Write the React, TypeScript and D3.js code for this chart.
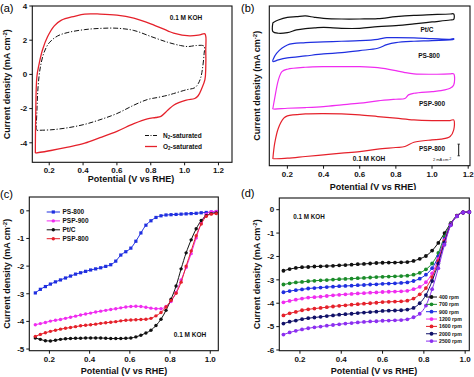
import * as d3 from "d3";

const FONT = "'Liberation Sans', Arial, sans-serif";

// ---- (a) CV of PSP-800, N2 vs O2 (V vs RHE, mA cm-2), closed loops
const cvN2: [number, number][] = [
  [0.122, -3.27], [0.127, -2.2], [0.131, -1.2], [0.14, -0.1], [0.151, 0.6], [0.17, 1.3], [0.2, 1.85],
  [0.25, 2.25], [0.31, 2.45], [0.41, 2.62], [0.5, 2.69], [0.6, 2.7], [0.7, 2.57], [0.8, 2.22],
  [0.9, 1.88], [0.975, 1.69], [1.02, 1.63], [1.07, 1.69], [1.115, 1.65], [1.115, 1.2], [1.105, 0.3],
  [1.095, -0.2], [1.08, -0.55], [1.06, -0.78], [1.01, -0.9], [0.935, -1.12], [0.9, -1.22], [0.84, -1.35],
  [0.78, -1.47], [0.7, -1.8], [0.6, -2.29], [0.5, -2.65], [0.41, -2.92], [0.31, -3.12], [0.21, -3.24],
  [0.122, -3.27],
];
const cvO2: [number, number][] = [
  [0.118, -4.6], [0.12, -2.5], [0.127, -0.14], [0.141, 0.65], [0.16, 1.43], [0.19, 2.2], [0.23, 2.84],
  [0.27, 3.16], [0.35, 3.4], [0.41, 3.53], [0.5, 3.53], [0.6, 3.47], [0.7, 3.29], [0.8, 2.96],
  [0.9, 2.55], [0.935, 2.41], [1.03, 2.25], [1.09, 2.31], [1.12, 2.37], [1.125, 1.4], [1.125, 0.4],
  [1.12, -0.3], [1.1, -0.85], [1.08, -1.25], [1.06, -1.41], [1.01, -1.51], [0.935, -1.8], [0.9, -2.1],
  [0.86, -2.45], [0.83, -2.52], [0.78, -2.6], [0.7, -2.88], [0.6, -3.33], [0.5, -3.7], [0.41, -4.02],
  [0.31, -4.25], [0.21, -4.45], [0.118, -4.6],
];

// ---- (b) CVs of the four catalysts, stacked with offsets
const bNames = ["Pt/C", "PS-800", "PSP-900", "PSP-800"];
const bColors = ["#111111", "#1f2fe0", "#f02cf0", "#e5212b"];
const bOffsets = [-2.97, -7.54, -14.11, -22.11];
const cvPtc: [number, number][] = [
  [0.12, 0.11], [0.15, 0.57], [0.2, 1.03], [0.25, 1.14], [0.3, 1.26], [0.35, 1.03], [0.4, 0.86],
  [0.5, 0.74], [0.6, 0.74], [0.7, 0.8], [0.8, 1.14], [0.9, 1.37], [1.0, 1.49], [1.1, 1.6], [1.12, 1.6],
  [1.12, 0.69], [1.1, 0.57], [1.0, 0.23], [0.9, -0.11], [0.8, -0.4], [0.7, -0.57], [0.6, -0.86],
  [0.5, -0.86], [0.4, -0.69], [0.35, -0.8], [0.3, -0.91], [0.25, -1.14], [0.2, -1.6], [0.15, -1.71],
  [0.12, -1.43], [0.12, 0.11],
];
const cvPs800: [number, number][] = [
  [0.12, -1.7], [0.14, -0.57], [0.2, 0.86], [0.3, 1.26], [0.4, 1.37], [0.5, 1.49], [0.6, 1.6],
  [0.7, 1.83], [0.75, 2.11], [0.8, 2.11], [0.9, 2.06], [1.0, 1.94], [1.1, 1.83], [1.12, 1.94],
  [1.12, 1.83], [1.0, 1.6], [0.9, 1.49], [0.8, 1.26], [0.75, 0.91], [0.7, 0.29], [0.6, -0.11],
  [0.5, -0.46], [0.4, -0.69], [0.3, -1.03], [0.2, -1.37], [0.15, -1.71], [0.12, -2.0], [0.12, -1.7],
];
const cvPsp900: [number, number][] = [
  [0.12, -3.43], [0.13, -1.7], [0.15, 1.4], [0.17, 2.86], [0.2, 3.26], [0.3, 3.6], [0.4, 3.71],
  [0.5, 3.71], [0.6, 3.71], [0.7, 3.54], [0.8, 3.03], [0.85, 2.69], [0.9, 2.46], [1.0, 2.4],
  [1.1, 2.46], [1.12, 2.46], [1.12, 0.57], [1.1, 0.0], [1.05, -0.4], [1.0, -0.57], [0.9, -0.86],
  [0.87, -1.14], [0.85, -1.77], [0.8, -1.89], [0.7, -2.17], [0.6, -2.57], [0.5, -2.86], [0.4, -3.14],
  [0.3, -3.31], [0.2, -3.43], [0.12, -3.54], [0.12, -3.43],
];
const cvPsp800: [number, number][] = [
  [0.12, -4.0], [0.13, -1.43], [0.15, 1.14], [0.18, 2.86], [0.2, 3.26], [0.3, 3.6], [0.4, 3.66],
  [0.5, 3.6], [0.6, 3.43], [0.7, 3.14], [0.8, 2.86], [0.9, 2.57], [1.0, 2.46], [1.1, 2.46],
  [1.12, 2.57], [1.12, 0.86], [1.1, -0.29], [1.05, -0.74], [1.0, -0.86], [0.9, -1.26], [0.85, -2.0],
  [0.8, -2.17], [0.7, -2.46], [0.6, -2.86], [0.5, -3.14], [0.4, -3.43], [0.3, -3.71], [0.2, -4.0],
  [0.12, -4.06], [0.12, -4.0],
];
const bCurves = [cvPtc, cvPs800, cvPsp900, cvPsp800];

// ---- (c) LSV at 1600 rpm
const lsvPotential = [
  0.13, 0.155, 0.18, 0.205, 0.23, 0.255, 0.28, 0.305, 0.33, 0.355, 0.38, 0.405, 0.43, 0.455, 0.48,
  0.505, 0.53, 0.555, 0.58, 0.605, 0.63, 0.655, 0.68, 0.705, 0.73, 0.755, 0.78, 0.805, 0.83, 0.855,
  0.88, 0.905, 0.93, 0.955, 0.98, 1.005, 1.03,
];
const lsvPs800 = [
  -2.97, -2.84, -2.74, -2.65, -2.57, -2.5, -2.43, -2.36, -2.29, -2.24, -2.19, -2.14, -2.1, -2.06, -2.01,
  -1.95, -1.82, -1.6, -1.48, -1.35, -1.1, -0.8, -0.52, -0.36, -0.24, -0.18, -0.15, -0.14, -0.13, -0.12,
  -0.11, -0.1, -0.09, -0.07, -0.06, -0.05, -0.04,
];
const lsvPsp900 = [
  -4.12, -4.08, -4.04, -3.99, -3.96, -3.93, -3.89, -3.85, -3.81, -3.77, -3.73, -3.7, -3.66, -3.63, -3.6,
  -3.57, -3.54, -3.51, -3.48, -3.46, -3.45, -3.46, -3.49, -3.52, -3.54, -3.54, -3.46, -3.28, -2.95, -2.5,
  -2.05, -1.55, -0.98, -0.45, -0.12, -0.03, -0.02,
];
const lsvPtc = [
  -4.6, -4.65, -4.7, -4.71, -4.68, -4.65, -4.63, -4.62, -4.61, -4.61, -4.6, -4.6, -4.6, -4.6, -4.61,
  -4.62, -4.62, -4.62, -4.61, -4.6, -4.56, -4.5, -4.42, -4.32, -4.15, -3.92, -3.6, -3.2, -2.72, -2.1,
  -1.52, -1.05, -0.65, -0.35, -0.18, -0.1, -0.08,
];
const lsvPsp800 = [
  -4.54, -4.47, -4.41, -4.36, -4.32, -4.28, -4.25, -4.22, -4.19, -4.16, -4.14, -4.12, -4.1, -4.07, -4.05,
  -4.03, -4.01, -3.98, -3.96, -3.95, -3.94, -3.93, -3.92, -3.89, -3.8, -3.68, -3.48, -3.24, -2.98, -2.58,
  -2.0, -1.45, -0.9, -0.48, -0.2, -0.12, -0.1,
];
const cNames = ["PS-800", "PSP-900", "Pt/C", "PSP-800"];
const cColors = ["#1f2fe0", "#f02cf0", "#111111", "#e5212b"];
const cSeries = [lsvPs800, lsvPsp900, lsvPtc, lsvPsp800];

// ---- (d) PSP-800 at different rotation rates
const rpmPotential = [
  0.12, 0.15, 0.18, 0.21, 0.24, 0.27, 0.3, 0.33, 0.36, 0.39, 0.42, 0.45, 0.48, 0.51, 0.54, 0.57, 0.6,
  0.63, 0.66, 0.69, 0.72, 0.75, 0.78, 0.81, 0.84, 0.87, 0.9, 0.93, 0.96, 0.99, 1.02,
];
const rpm400 = [
  -2.61, -2.54, -2.49, -2.46, -2.45, -2.43, -2.42, -2.41, -2.4, -2.38, -2.37, -2.35, -2.33, -2.32, -2.3,
  -2.28, -2.27, -2.26, -2.26, -2.25, -2.24, -2.19, -2.1, -1.98, -1.75, -1.42, -1.0, -0.58, -0.25, -0.12, -0.1,
];
const rpm700 = [
  -3.2, -3.15, -3.11, -3.09, -3.06, -3.04, -3.02, -3.01, -2.99, -2.97, -2.96, -2.95, -2.93, -2.92, -2.9,
  -2.88, -2.87, -2.86, -2.85, -2.84, -2.82, -2.78, -2.7, -2.55, -2.3, -1.85, -1.15, -0.6, -0.26, -0.12, -0.1,
];
const rpm900 = [
  -3.53, -3.48, -3.44, -3.41, -3.37, -3.35, -3.33, -3.31, -3.29, -3.27, -3.26, -3.25, -3.23, -3.22, -3.2,
  -3.19, -3.17, -3.16, -3.15, -3.13, -3.11, -3.05, -2.95, -2.78, -2.5, -2.0, -1.25, -0.62, -0.27, -0.12, -0.1,
];
const rpm1200 = [
  -3.96, -3.9, -3.85, -3.8, -3.76, -3.74, -3.72, -3.69, -3.66, -3.64, -3.62, -3.6, -3.58, -3.57, -3.55,
  -3.54, -3.52, -3.51, -3.5, -3.49, -3.47, -3.4, -3.3, -3.1, -2.72, -2.1, -1.3, -0.63, -0.27, -0.12, -0.1,
];
const rpm1600 = [
  -4.52, -4.43, -4.37, -4.3, -4.26, -4.23, -4.2, -4.17, -4.14, -4.11, -4.09, -4.06, -4.04, -4.02, -4.0,
  -3.98, -3.95, -3.94, -3.93, -3.92, -3.89, -3.8, -3.62, -3.35, -2.88, -2.2, -1.35, -0.64, -0.27, -0.12, -0.1,
];
const rpm2000 = [
  -4.87, -4.79, -4.74, -4.68, -4.64, -4.61, -4.58, -4.55, -4.52, -4.49, -4.47, -4.45, -4.42, -4.4, -4.38,
  -4.36, -4.33, -4.32, -4.31, -4.3, -4.27, -4.2, -4.0, -3.65, -3.05, -2.3, -1.4, -0.65, -0.28, -0.12, -0.1,
];
const rpm2500 = [
  -5.34, -5.25, -5.18, -5.12, -5.07, -5.03, -5.0, -4.96, -4.93, -4.9, -4.87, -4.85, -4.82, -4.8, -4.78,
  -4.77, -4.75, -4.74, -4.73, -4.72, -4.69, -4.6, -4.45, -4.1, -3.4, -2.5, -1.5, -0.67, -0.28, -0.12, -0.1,
];
const dNames = ["400 rpm", "700 rpm", "900 rpm", "1200 rpm", "1600 rpm", "2000 rpm", "2500 rpm"];
const dColors = ["#111111", "#1a8c2a", "#1f2fe0", "#f02cf0", "#e5212b", "#101068", "#8c2ff0"];
const dSeries = [rpm400, rpm700, rpm900, rpm1200, rpm1600, rpm2000, rpm2500];

const xTicksA = [0.2, 0.4, 0.6, 0.8, 1.0, 1.2];
const yTicksA = [-4, -2, 0, 2, 4];
const xTicksC = [0.2, 0.4, 0.6, 0.8, 1.0];
const yTicksC = [0, -1, -2, -3, -4, -5];
const yTicksD = [0, -1, -2, -3, -4, -5, -6];

type Scale = d3.ScaleLinear<number, number>;

const Frame = ({ x, y, xTicks, yTicks, xTitle, yTitleX, xTitleY }: {
  x: Scale; y: Scale; xTicks: number[]; yTicks: number[]; xTitle: [number, number]; yTitleX: number; xTitleY?: number;
}) => {
  const [x0, x1] = x.range();
  const [y0, y1] = y.range();
  const cy = (y0 + y1) / 2;
  return (
    <g fontFamily={FONT} fontWeight="bold" fill="#111">
      <rect x={x0} y={y1} width={x1 - x0} height={y0 - y1} fill="none" stroke="#111" strokeWidth={1.1} />
      {xTicks.map((t) => (
        <g key={"x" + t}>
          <line x1={x(t)} x2={x(t)} y1={y0} y2={y0 + 3} stroke="#111" />
          <text x={x(t)} y={y0 + 11} fontSize={8} textAnchor="middle">{t.toFixed(1)}</text>
        </g>
      ))}
      {yTicks.map((t) => (
        <g key={"y" + t}>
          <line x1={x0 - 3} x2={x0} y1={y(t)} y2={y(t)} stroke="#111" />
          <text x={x0 - 5} y={y(t)} dy="0.35em" fontSize={8} textAnchor="end">{t}</text>
        </g>
      ))}
      <text x={xTitle[0]} y={xTitleY ?? xTitle[1]} fontSize={9} textAnchor="middle">Potential (V vs RHE)</text>
      <text transform={`translate(${yTitleX},${cy}) rotate(-90)`} fontSize={9} textAnchor="middle" dy="0.35em">
        Current density (mA cm<tspan fontSize={6} dy={-3.5}>-2</tspan><tspan dy={3.5}>)</tspan>
      </text>
    </g>
  );
};

const smooth = d3.line<[number, number]>().curve(d3.curveCatmullRom.alpha(0.5));

export default function App() {
  // (a)
  const xa = d3.scaleLinear().domain([0.1, 1.28]).range([32.3, 232]);
  const ya = d3.scaleLinear().domain([-5.14, 4]).range([162.3, 6]);
  const pa = (pts: [number, number][]) => smooth(pts.map(([v, j]) => [xa(v), ya(j)] as [number, number])) ?? "";

  // (b)
  const xb = d3.scaleLinear().domain([0.1, 1.21]).range([269.3, 470]);
  const yb = d3.scaleLinear().domain([-27.4, 0]).range([165.7, 6]);

  // (c)
  const xc = d3.scaleLinear().domain([0.1, 1.04]).range([29.3, 218.3]);
  const yc = d3.scaleLinear().domain([-5.06, 0.5]).range([350.7, 197]);
  const lineC = d3.line<number>().x((_, i) => xc(lsvPotential[i])).y((d) => yc(d)).curve(d3.curveMonotoneX);

  // (d)
  const xd = d3.scaleLinear().domain([0.1, 1.02]).range([279.3, 469.3]);
  const yd = d3.scaleLinear().domain([-6.03, 0.5]).range([350.7, 198]);
  const lineD = d3.line<number>().x((_, i) => xd(rpmPotential[i])).y((d) => yd(d)).curve(d3.curveMonotoneX);

  return (
    <svg width={474} height={377} style={{ position: "absolute", left: 0, top: 0, background: "#fff" }}>
      <defs>
        <clipPath id="clipB">
          <rect x={237} y={0} width={237} height={190} />
        </clipPath>
      </defs>

      {/* ---------- (a) ---------- */}
      <text x={0} y={12} fontFamily={FONT} fontSize={11}>(a)</text>
      <Frame x={xa} y={ya} xTicks={xTicksA} yTicks={yTicksA} xTitle={[131, 182]} yTitleX={7} />
      <path d={pa(cvN2)} fill="none" stroke="#111" strokeWidth={1} strokeDasharray="5,1.8,1.2,1.8" />
      <path d={pa(cvO2)} fill="none" stroke="#e5212b" strokeWidth={1.3} />
      <g fontFamily={FONT} fontWeight="bold" fontSize={6.5} fill="#111">
        <text x={186} y={20} textAnchor="middle">0.1 M KOH</text>
        <line x1={145} x2={157} y1={135.5} y2={135.5} stroke="#111" strokeDasharray="4,1.5,1,1.5" />
        <text x={163} y={135.5} dy="0.35em">N<tspan fontSize={4.5} dy={1.5}>2</tspan><tspan dy={-1.5}>-saturated</tspan></text>
        <line x1={145} x2={157} y1={146.5} y2={146.5} stroke="#e5212b" strokeWidth={1.3} />
        <text x={163} y={146.5} dy="0.35em">O<tspan fontSize={4.5} dy={1.5}>2</tspan><tspan dy={-1.5}>-saturated</tspan></text>
      </g>

      {/* ---------- (b) ---------- */}
      <text x={241} y={12} fontFamily={FONT} fontSize={11}>(b)</text>
      <g clipPath="url(#clipB)">
        <Frame x={xb} y={yb} xTicks={xTicksA} yTicks={[]} xTitle={[373, 190]} yTitleX={257} />
      </g>
      {bCurves.map((c, k) => (
        <path key={bNames[k]}
          d={smooth(c.map(([v, j]) => [xb(v), yb(j + bOffsets[k])] as [number, number])) ?? ""}
          fill="none" stroke={bColors[k]} strokeWidth={1.2} />
      ))}
      <g fontFamily={FONT} fontWeight="bold" fontSize={6.5} fill="#111">
        <text x={427} y={30} dy="0.35em" textAnchor="middle">Pt/C</text>
        <text x={429} y={56} dy="0.35em" textAnchor="middle">PS-800</text>
        <text x={432} y={104} dy="0.35em" textAnchor="middle">PSP-900</text>
        <text x={432} y={149} dy="0.35em" textAnchor="middle">PSP-800</text>
        <text x={369} y={159} dy="0.35em" textAnchor="middle">0.1 M KOH</text>
        <text x={442} y={160} dy="0.35em" textAnchor="middle" fontSize={4} fontWeight="normal">
          2 mA cm<tspan fontSize={3} dy={-1.5}>-2</tspan>
        </text>
        <line x1={458.7} x2={458.7} y1={yb(-23.7)} y2={yb(-25.7)} stroke="#111" strokeWidth={1} />
        <line x1={457.5} x2={459.9} y1={yb(-23.7)} y2={yb(-23.7)} stroke="#111" strokeWidth={0.8} />
        <line x1={457.5} x2={459.9} y1={yb(-25.7)} y2={yb(-25.7)} stroke="#111" strokeWidth={0.8} />
      </g>

      {/* ---------- (c) ---------- */}
      <text x={0} y={198} fontFamily={FONT} fontSize={11}>(c)</text>
      <Frame x={xc} y={yc} xTicks={xTicksC} yTicks={yTicksC} xTitle={[124, 374]} yTitleX={7} />
      {cSeries.map((s, k) => (
        <g key={cNames[k]}>
          <path d={lineC(s) ?? ""} fill="none" stroke={cColors[k]} strokeWidth={1} />
          {s.map((v, i) =>
            k === 0 ? (
              <rect key={i} x={xc(lsvPotential[i]) - 1.6} y={yc(v) - 1.6} width={3.2} height={3.2} fill={cColors[k]} />
            ) : (
              <circle key={i} cx={xc(lsvPotential[i])} cy={yc(v)} r={1.7} fill={cColors[k]} />
            )
          )}
        </g>
      ))}
      <g fontFamily={FONT} fontWeight="bold" fontSize={6.5} fill="#111">
        {cNames.map((n, k) => {
          const ly = 212 + k * 8.9;
          return (
            <g key={n}>
              <line x1={46.7} x2={60} y1={ly} y2={ly} stroke={cColors[k]} strokeWidth={1} />
              {k === 0 ? (
                <rect x={51.7} y={ly - 1.6} width={3.2} height={3.2} fill={cColors[k]} />
              ) : (
                <circle cx={53.3} cy={ly} r={1.7} fill={cColors[k]} />
              )}
              <text x={62.5} y={ly} dy="0.35em">{n}</text>
            </g>
          );
        })}
        <text x={190} y={335} dy="0.35em" textAnchor="middle">0.1 M KOH</text>
      </g>

      {/* ---------- (d) ---------- */}
      <text x={241} y={197} fontFamily={FONT} fontSize={11}>(d)</text>
      <Frame x={xd} y={yd} xTicks={xTicksC} yTicks={yTicksD} xTitle={[374, 374]} yTitleX={257} />
      {dSeries.map((s, k) => (
        <g key={dNames[k]}>
          <path d={lineD(s) ?? ""} fill="none" stroke={dColors[k]} strokeWidth={1} />
          {s.map((v, i) => (
            <circle key={i} cx={xd(rpmPotential[i])} cy={yd(v)} r={1.9} fill={dColors[k]} />
          ))}
        </g>
      ))}
      <g fontFamily={FONT} fontWeight="bold" fontSize={5.2} fill="#111">
        <text x={309} y={216.5} dy="0.35em" textAnchor="middle" fontSize={6.3}>0.1 M KOH</text>
        {dNames.map((n, k) => {
          const ly = 297 + k * 7.35;
          return (
            <g key={n}>
              <line x1={426} x2={437} y1={ly} y2={ly} stroke={dColors[k]} strokeWidth={1} />
              <circle cx={431.5} cy={ly} r={1.9} fill={dColors[k]} />
              <text x={439} y={ly} dy="0.35em">{n}</text>
            </g>
          );
        })}
      </g>
    </svg>
  );
}
